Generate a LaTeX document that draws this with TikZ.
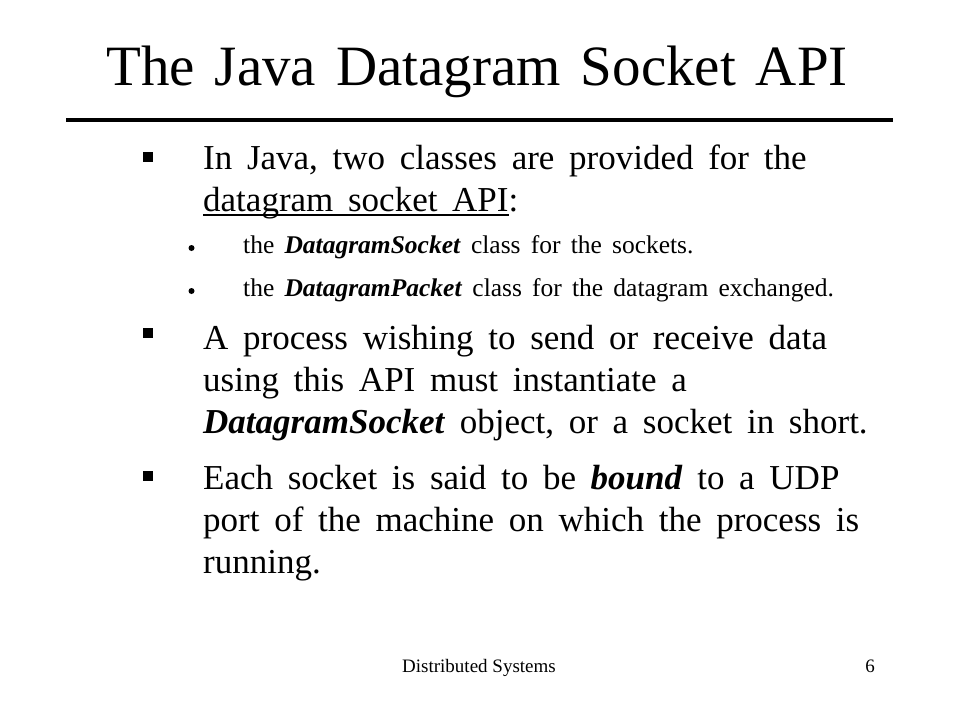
\documentclass[tikz,border=0pt]{standalone}
\usepackage{fontspec}
\setmainfont{Liberation Serif}
\newcommand\undertext[1]{\setbox0\hbox{#1}\rlap{\rule[-5pt]{\wd0}{1.6pt}}\box0}
\newcommand\bi[1]{\textbf{\textit{#1}}}
\newcommand\headfont{\fontsize{57}{60}\selectfont\spaceskip=0.35em\relax}
\newcommand\bodyfont{\fontsize{35}{42}\selectfont\spaceskip=0.42em\relax}
\newcommand\subfont{\fontsize{25.5}{28}\selectfont\spaceskip=0.4em\relax}
\begin{document}
\begin{tikzpicture}[x=1pt, y=-1pt,
    heading/.style={anchor=base, inner sep=0, font=\headfont},
    body/.style={anchor=base west, inner sep=0, align=left, font=\bodyfont},
    subbody/.style={anchor=base west, inner sep=0, align=left, font=\subfont},
    square/.style={fill, inner sep=0, minimum size=10pt},
    dot/.style={circle, fill, inner sep=0, minimum size=6pt},
    foot/.style={anchor=base west, inner sep=0, font=\fontsize{19}{22}\selectfont}]
  \useasboundingbox (0,0) rectangle (960,720);
  % title and rule
  \node[heading] (title) at (477,85) {The Java Datagram Socket API};
  \coordinate (ruleL) at (66,120);
  \coordinate (ruleR) at (893,120);
  \draw[line width=3.5pt] (ruleL) -- (ruleR);
  % first point (base = last line)
  \node[square] (sq1) at (148,157) {};
  \node[body] (pt1) at (203,211) {In Java, two classes are provided for the\\\undertext{datagram socket API}:};
  \node[dot] (dot1) at (191.5,248) {};
  \node[subbody] (sub1) at (243,253) {the \bi{DatagramSocket} class for the sockets.};
  \node[dot] (dot2) at (191.5,291) {};
  \node[subbody] (sub2) at (243,296) {the \bi{DatagramPacket} class for the datagram exchanged.};
  % second point
  \node[square] (sq2) at (148,333) {};
  \node[body] (pt2) at (203,433) {A process wishing to send or receive data\\using this API must instantiate a\\\bi{DatagramSocket} object, or a socket in short.};
  % third point
  \node[square] (sq3) at (148,476) {};
  \node[body] (pt3) at (203,573) {Each socket is said to be \bi{bound} to a UDP\\port of the machine on which the process is\\running.};
  % footer
  \node[foot] (course) at (402,672) {Distributed Systems};
  \node[foot, anchor=base east] (page) at (875,672) {6};
\end{tikzpicture}
\end{document}
